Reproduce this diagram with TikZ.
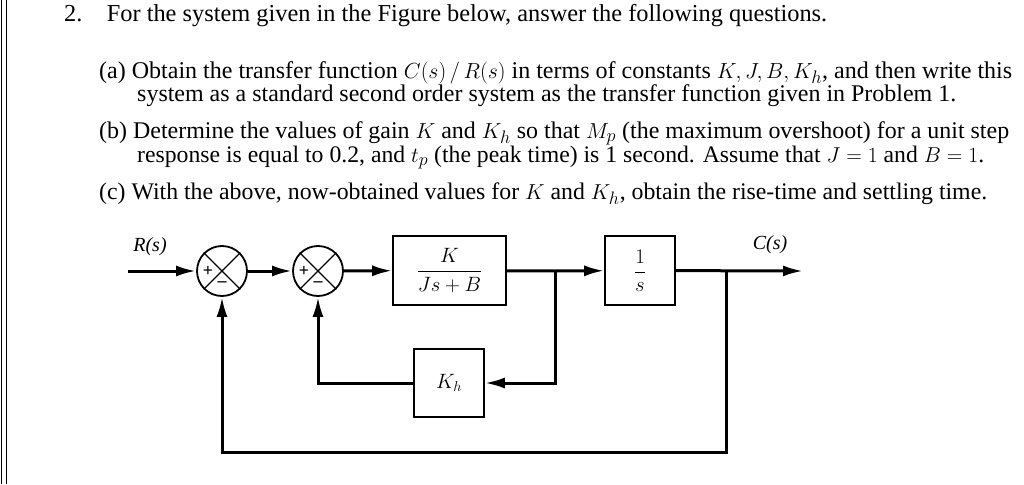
\documentclass[tikz,border=0pt]{standalone}
\usepackage{graphicx}
\usepackage{fontspec}
\setmainfont{Liberation Serif}
\usetikzlibrary{arrows.meta}
\begin{document}
\begin{tikzpicture}[x=1pt,y=-1pt,
  txt/.style={anchor=base west,inner sep=0pt,font=\fontsize{19}{22}\selectfont},
  blk/.style={draw,line width=1.6pt,minimum width=113pt,minimum height=69pt,inner sep=0pt,font=\fontsize{21}{24}\selectfont\itshape},
  sumj/.style={draw,circle,line width=1.8pt,minimum size=50pt,inner sep=0pt},
  sig/.style={line width=3pt,-{Latex[length=20pt,width=11pt]}},
  ln/.style={line width=3pt},
  lab/.style={font=\fontsize{20}{22}\selectfont\itshape,inner sep=0pt}]
\useasboundingbox (0,0) rectangle (1024,484);
\draw[line width=1pt] (1.5,0) -- (1.5,484) (6.5,0) -- (6.5,484);
% text
\node[txt] (h0) at (64,22) {\resizebox{763pt}{!}{2.\hspace{1em}For the system given in the Figure below, answer the following questions.}};
\node[txt] (a1) at (99,78) {\resizebox{913pt}{!}{(a) Obtain the transfer function $C(s)\,/\,R(s)$ in terms of constants $K,J,B,K_h$, and then write this}};
\node[txt] (a2) at (137,102) {\resizebox{819pt}{!}{system as a standard second order system as the transfer function given in Problem 1.}};
\node[txt] (b1) at (99,138) {\resizebox{910pt}{!}{(b) Determine the values of gain $K$ and $K_h$ so that $M_p$ (the maximum overshoot) for a unit step}};
\node[txt] (b2) at (137,162) {\resizebox{847pt}{!}{response is equal to 0.2, and $t_p$ (the peak time) is 1 second. Assume that $J=1$ and $B=1$.}};
\node[txt] (c1) at (99,199) {\resizebox{888pt}{!}{(c) With the above, now-obtained values for $K$ and $K_h$, obtain the rise-time and settling time.}};
% diagram
\coordinate (in) at (128,271);
\node[lab] (R) at (150,247) {R(s)};
\node[sumj] (s1) at (222,271) {};
\node[sumj] (s2) at (318,271) {};
\foreach \s in {s1,s2}{
  \draw[line width=1.4pt] (\s.north west) -- (\s.south east) (\s.north east) -- (\s.south west);
  \node[font=\fontsize{18}{18}\selectfont\bfseries,inner sep=0pt] at ([xshift=-14pt]\s.center) {+};
  \node[font=\fontsize{18}{18}\selectfont\bfseries,inner sep=0pt] at ([yshift=-13pt]\s.center) {--};
}
\node[blk] (G) at (449.5,270.5) {$\displaystyle\frac{K}{Js+B}$};
\node[blk,minimum width=70pt] (I) at (640,270.5) {$\displaystyle\frac{1}{s}$};
\node[blk,minimum width=70pt,minimum height=68pt] (Kh) at (449,383) {$K_h$};
\node[lab] (C) at (770,245) {C(s)};
\coordinate (b1) at (555,271);
\coordinate (b2) at (726,271);
\coordinate (out) at (803,271);
\coordinate (bot) at (726,452);
\draw[sig] (in) -- (s1);
\draw[sig] (s1) -- (s2);
\draw[sig] (s2) -- (G);
\draw[ln] (G) -- (b1);
\draw[sig] (b1) -- (I);
\draw[sig] (I) -- (out);
\draw[sig] (b1) |- (Kh);
\draw[sig] (Kh) -| (s2);
\draw[sig] (b2) -- (bot) -| (s1);
\end{tikzpicture}
\end{document}
